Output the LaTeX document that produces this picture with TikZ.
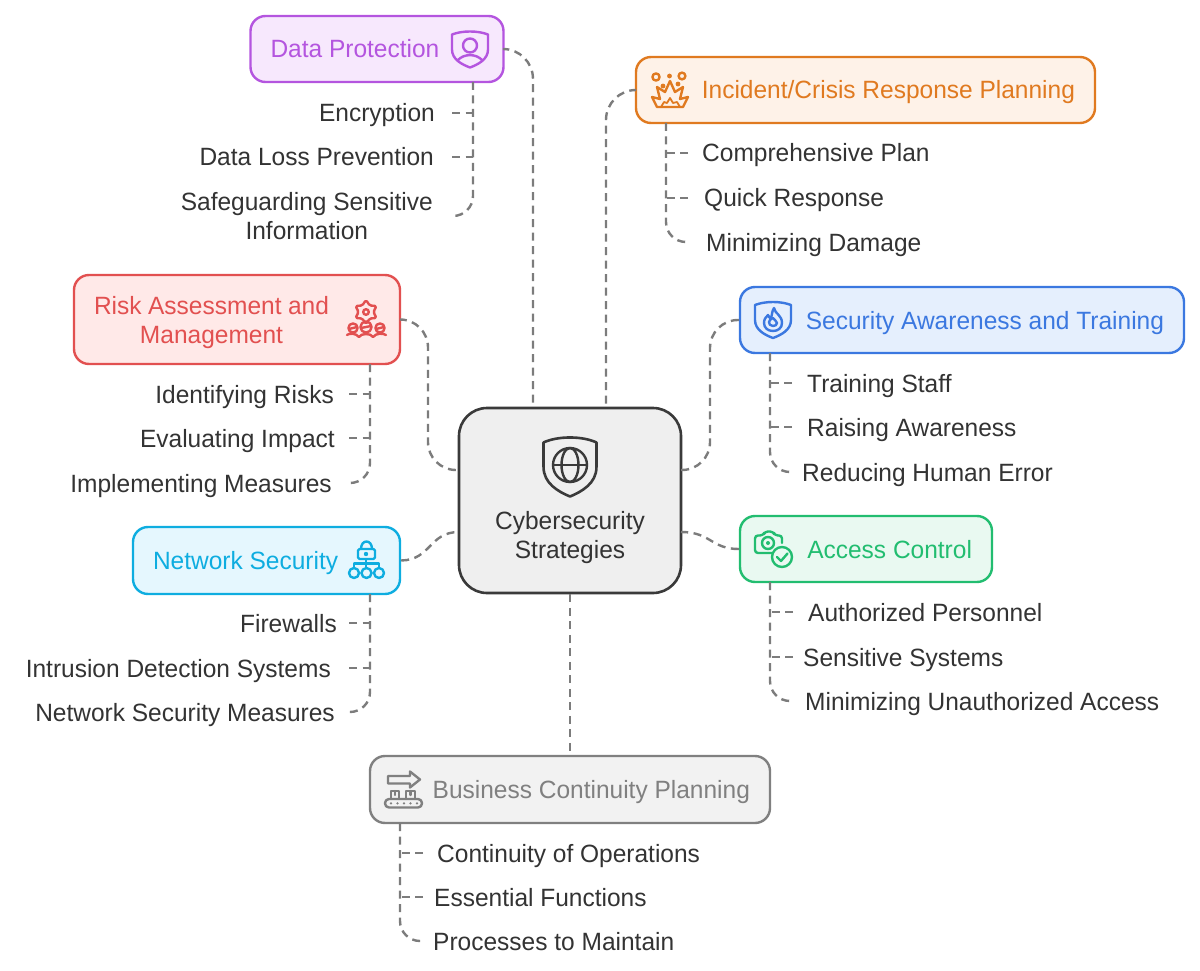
\documentclass[tikz,border=0pt]{standalone}
\usepackage{fontspec}
\setmainfont[FakeStretch=0.98]{Liberation Sans}
\definecolor{cPur}{HTML}{B455DF}\definecolor{fPur}{HTML}{F7E8FD}
\definecolor{cOra}{HTML}{E07A20}\definecolor{fOra}{HTML}{FEF2E8}
\definecolor{cRed}{HTML}{E25050}\definecolor{fRed}{HTML}{FFE9E8}
\definecolor{cBlu}{HTML}{3B78E0}\definecolor{fBlu}{HTML}{E5EFFD}
\definecolor{cCya}{HTML}{0EADE0}\definecolor{fCya}{HTML}{E5F7FE}
\definecolor{cGre}{HTML}{22BD70}\definecolor{fGre}{HTML}{E9F9F1}
\definecolor{cGra}{HTML}{808080}\definecolor{fGra}{HTML}{F2F2F2}
\definecolor{cHub}{HTML}{3A3A3A}\definecolor{fHub}{HTML}{EFEFEF}
\definecolor{cCon}{HTML}{7C7C7C}
\definecolor{cTxt}{HTML}{333333}
\tikzset{
  boxnode/.style n args={4}{draw=#1,fill=#2,text=#1,line width=2.4pt,rounded corners=15pt,
    minimum width=#3,minimum height=#4,inner xsep=20pt,inner ysep=0pt,
    font=\fontsize{25}{29}\selectfont,text height=21pt,text depth=3pt},
  leftbox/.style={align=flush left,text width=#1},
  rightbox/.style={align=flush right,text width=#1},
  hubnode/.style={draw=cHub,fill=fHub,text=cTxt,line width=2.6pt,rounded corners=28pt,
    minimum width=222pt,minimum height=185pt,inner sep=0pt,align=center,
    font=\fontsize{25}{29}\selectfont},
  itemtext/.style={text=cTxt,inner ysep=0pt,font=\fontsize{25}{29}\selectfont,text height=21pt,text depth=3pt},
  litem/.style={itemtext,anchor=east,inner xsep=#1},
  ritem/.style={itemtext,anchor=west,inner xsep=#1},
  conn/.style={draw=cCon,line width=2.4pt,dash pattern=on 8pt off 5.5pt},
  icn/.style={line width=2.4pt,line join=round,line cap=round}
}
\newcommand\shieldshape{(-18,-15) .. controls (-8,-19) and (8,-19) .. (18,-15) -- (18,0) .. controls (18,10) and (8,15) .. (0,18) .. controls (-8,15) and (-18,10) .. (-18,0) -- cycle}
\begin{document}
\begin{tikzpicture}[x=1pt,y=-1pt]
\useasboundingbox (0,0) rectangle (1200,971);
% main boxes
\node[hubnode] (hub) at (570,500.5) {\rule{0pt}{64pt}\\Cybersecurity\\Strategies};
\node[boxnode={cPur}{fPur}{252pt}{66pt},leftbox=213pt] (dp) at (377,49) {Data Protection};
\node[boxnode={cOra}{fOra}{459pt}{66pt},rightbox=419pt] (ir) at (865.5,90) {Incident/Crisis Response Planning};
\node[boxnode={cRed}{fRed}{326pt}{89pt},leftbox=286pt,text height=,text depth=] (ra) at (237,319.5) {\parbox{235pt}{\vspace*{6pt}\centering\baselineskip=29pt Risk Assessment and\\Management}};
\node[boxnode={cBlu}{fBlu}{444pt}{66pt},rightbox=404pt] (sa) at (962,320) {Security Awareness and Training};
\node[boxnode={cCya}{fCya}{267pt}{67pt},leftbox=227pt] (ns) at (266.5,560.5) {Network Security};
\node[boxnode={cGre}{fGre}{252pt}{66pt},rightbox=212pt] (ac) at (866,549) {Access Control};
\node[boxnode={cGra}{fGra}{400pt}{67pt},rightbox=360pt] (bc) at (570,789.5) {Business Continuity Planning};
% items
\node[litem=17pt] (i11) at (452,113) {Encryption};
\node[litem=18pt] (i12) at (452,157) {Data Loss Prevention};
\node[litem=17pt,align=center,text height=,text depth=] (i13) at (450,216) {Safeguarding Sensitive\\Information};
\node[ritem=14pt] (i21) at (688,153) {Comprehensive Plan};
\node[ritem=16pt] (i22) at (688,198) {Quick Response};
\node[ritem=16pt] (i23) at (690,242) {Minimizing Damage};
\node[litem=15pt] (i31) at (349,394) {Identifying Risks};
\node[litem=14pt] (i32) at (349,438) {Evaluating Impact};
\node[litem=15pt] (i33) at (347,483) {Implementing Measures};
\node[ritem=15pt] (i41) at (792,383) {Training Staff};
\node[ritem=15pt] (i42) at (792,427) {Raising Awareness};
\node[ritem=9pt] (i43) at (793,472) {Reducing Human Error};
\node[litem=12pt] (i51) at (349,623) {Firewalls};
\node[litem=18pt] (i52) at (349,668) {Intrusion Detection Systems};
\node[litem=12pt] (i53) at (347,712) {Network Security Measures};
\node[ritem=15pt] (i61) at (793,612) {Authorized Personnel};
\node[ritem=10pt] (i62) at (793,657) {Sensitive Systems};
\node[ritem=12pt] (i63) at (793,701) {Minimizing Unauthorized Access};
\node[ritem=14pt] (i71) at (423,853) {Continuity of Operations};
\node[ritem=11pt] (i72) at (423,897) {Essential Functions};
\node[ritem=10pt] (i73) at (423,941) {Processes to Maintain};
% attachment points
\coordinate (h1) at (533,408);
\coordinate (h2) at (606,408);
\coordinate (h3) at (459,470);
\coordinate (h4) at (681,470);
\coordinate (h5) at (459,532);
\coordinate (h6) at (681,532);
\coordinate (t1) at (473,82);
\coordinate (t2) at (666,123);
\coordinate (t3) at (370,364);
\coordinate (t4) at (770,353);
\coordinate (t5) at (370,594);
\coordinate (t6) at (770,582);
\coordinate (t7) at (400,823);
% hub connectors
\draw[conn,rounded corners=30pt] (dp.east) -| (h1);
\draw[conn,rounded corners=30pt] (ir.west) -| (h2);
\draw[conn,rounded corners=28pt] (ra.east) -- (428,319.5) -- (428,470) -- (h3);
\draw[conn,rounded corners=28pt] (sa.west) -- (710,320) -- (710,470) -- (h4);
\draw[conn] (ns.east) .. controls (431,560) and (429,532) .. (h5);
\draw[conn] (ac.west) .. controls (711,549) and (711,532) .. (h6);
\draw[conn] (hub.south) -- (bc.north);
% trunks and branches
\draw[conn,rounded corners=20pt] (t1) |- (i13.east);
\draw[conn] (i11.east) -- (i11.east -| t1);
\draw[conn] (i12.east) -- (i12.east -| t1);
\draw[conn,rounded corners=20pt] (t2) |- (i23.west);
\draw[conn] (i21.west) -- (i21.west -| t2);
\draw[conn] (i22.west) -- (i22.west -| t2);
\draw[conn,rounded corners=20pt] (t3) |- (i33.east);
\draw[conn] (i31.east) -- (i31.east -| t3);
\draw[conn] (i32.east) -- (i32.east -| t3);
\draw[conn,rounded corners=20pt] (t4) |- (i43.west);
\draw[conn] (i41.west) -- (i41.west -| t4);
\draw[conn] (i42.west) -- (i42.west -| t4);
\draw[conn,rounded corners=20pt] (t5) |- (i53.east);
\draw[conn] (i51.east) -- (i51.east -| t5);
\draw[conn] (i52.east) -- (i52.east -| t5);
\draw[conn,rounded corners=20pt] (t6) |- (i63.west);
\draw[conn] (i61.west) -- (i61.west -| t6);
\draw[conn] (i62.west) -- (i62.west -| t6);
\draw[conn,rounded corners=20pt] (t7) |- (i73.west);
\draw[conn] (i71.west) -- (i71.west -| t7);
\draw[conn] (i72.west) -- (i72.west -| t7);
% hub icon
\begin{scope}[icn,draw=cHub,shift={(570,467)},xscale=1.47,yscale=1.64]
\draw[line width=2.6pt] \shieldshape;
\end{scope}
\begin{scope}[icn,draw=cHub,shift={(570,465)}]
\draw (0,0) circle (17);
\draw (0,0) ellipse (8.5 and 17);
\draw (-17,0) -- (17,0);
\end{scope}
% data protection icon
\begin{scope}[icn,draw=cPur,shift={(470,49.5)}]
\draw \shieldshape;
\draw (0,-4) circle (7);
\draw (-12,10.5) .. controls (-6,4) and (6,4) .. (12,10.5);
\end{scope}
% incident icon
\begin{scope}[icn,draw=cOra]
\draw (657,107) -- (652,97) -- (660,99) -- (657,87) -- (665,92) -- (670,81) -- (675,92) -- (683,87) -- (680,99) -- (688,97) -- (683,107) -- cycle;
\draw[line width=1.8pt] (661,107) -- (664,102) -- (667,103) -- (670,98) -- (673,103) -- (677,102) -- (680,107);
\draw (682,76) circle (3.4);
\draw (656,77) circle (3.6);
\fill[cOra] (669.5,76) circle (2.4) (663,86) circle (2.4) (678,84) circle (2.4);
\end{scope}
% risk icon
\begin{scope}[icn,draw=cRed]
\begin{scope}[shift={(366,312)}]
\draw[rounded corners=1.5pt] (90:12) -- (120:7.5) -- (150:12) -- (180:7.5) -- (210:12) -- (240:7.5) -- (270:12) -- (300:7.5) -- (330:12) -- (0:7.5) -- (30:12) -- (60:7.5) -- cycle;
\draw (0,0) circle (2.8);
\end{scope}
\draw (353,328) circle (4.6) (366,327) circle (5.6) (380,328) circle (4.6);
\draw (349,329) -- (357,327) (361,328) -- (371,326) (376,329) -- (384,327);
\draw (347,335) .. controls (349,333) and (356,333) .. (359,337) .. controls (361,333) and (371,333) .. (373,337) .. controls (376,333) and (383,333) .. (386,335);
\end{scope}
% security awareness icon
\begin{scope}[icn,draw=cBlu,shift={(773,320)}]
\draw \shieldshape;
\draw (1,-12) .. controls (2,-6) and (9,-5) .. (9,3) .. controls (9,8) and (5,11) .. (0,11) .. controls (-5,11) and (-9,8) .. (-9,3) .. controls (-9,-1) and (-7,-3) .. (-5,-5) .. controls (-4,-2) and (-3,-2) .. (-2,-2) .. controls (-1,-5) and (-1,-9) .. (1,-12) -- cycle;
\draw (0,6) .. controls (-3,6) and (-4,4) .. (-4,2) .. controls (-4,0) and (-2,-1) .. (0,-2) .. controls (1,0) and (4,1) .. (4,3) .. controls (4,5) and (2,6) .. (0,6) -- cycle;
\end{scope}
% network icon
\begin{scope}[icn,draw=cCya]
\draw[rounded corners=1.5pt] (358,549) rectangle (375,559);
\draw (361,549) .. controls (361,539) and (372,539) .. (372,549);
\fill[cCya] (366,554) circle (2.2);
\draw (366,559) -- (366,568) (354,568) -- (354,563.5) -- (379,563.5) -- (379,568);
\draw (354,573) circle (5) (366.5,573) circle (5) (379,573) circle (5);
\end{scope}
% access control icon
\begin{scope}[icn,draw=cGre]
\draw[rounded corners=3pt] (772,553) -- (755,553) -- (755,535.5) -- (763,535.5) -- (765,531.5) -- (773,531.5) -- (775,535.5) -- (782,535.5) -- (782,543);
\draw (768,543) circle (6);
\fill[cGre] (768,543) circle (2);
\draw (782,557) circle (10);
\draw (777,557) -- (781,561) -- (787.5,553.5);
\end{scope}
% business icon
\begin{scope}[icn,draw=cGra]
\draw (388,776) -- (410,776) -- (410,771.5) -- (420,779.5) -- (410,787.5) -- (410,783.5) -- (388,783.5) -- cycle;
\draw (391,799) -- (391,791) -- (399,791) -- (399,799) (406,799) -- (406,791) -- (415,791) -- (415,799);
\draw (395,791) -- (395,795) (410.5,791) -- (410.5,795);
\draw[rounded corners=4pt] (385,799) rectangle (422,807.5);
\fill[cGra] (391,803.3) circle (1.3) (397.5,803.3) circle (1.3) (404,803.3) circle (1.3) (410.5,803.3) circle (1.3) (417,803.3) circle (1.3);
\end{scope}
\end{tikzpicture}
\end{document}
